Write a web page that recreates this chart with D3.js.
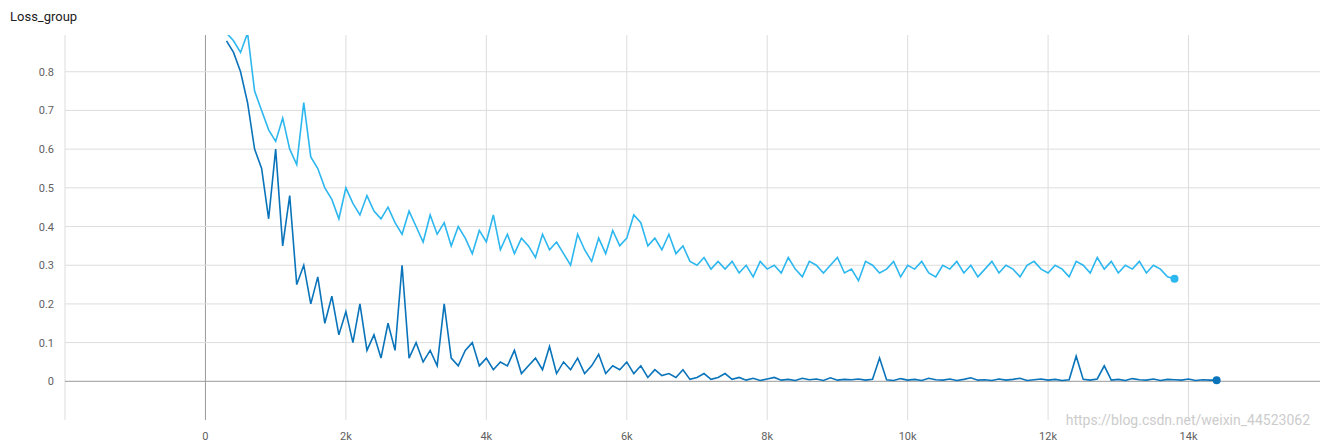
<!DOCTYPE html>
<html><head><meta charset="utf-8">
<script src="https://cdn.jsdelivr.net/npm/d3@7"></script>
<style>body{margin:0;background:#fff;font-family:Roboto,"Noto Sans",sans-serif;}</style>
</head><body><svg id="c" width="1320" height="445"></svg>
<script>
const title = "Loss_group";
const xTicks = [0,2000,4000,6000,8000,10000,12000,14000];
const xGrid = [-2000,0,2000,4000,6000,8000,10000,12000,14000,16000];
const yTicks = [0,0.1,0.2,0.3,0.4,0.5,0.6,0.7,0.8];
const lightStart = 300, lightStep = 100;
const lightValues = [0.9,0.88,0.85,0.9,0.75,0.7,0.65,0.62,0.68,0.6,0.56,0.72,0.58,0.55,0.5,0.47,0.42,0.5,0.46,0.43,0.48,0.44,0.42,0.45,0.41,0.38,0.44,0.4,0.36,0.43,0.38,0.41,0.35,0.4,0.37,0.33,0.39,0.36,0.43,0.34,0.38,0.33,0.37,0.35,0.32,0.38,0.34,0.36,0.33,0.3,0.38,0.34,0.31,0.37,0.33,0.39,0.35,0.37,0.43,0.41,0.35,0.37,0.34,0.38,0.33,0.35,0.31,0.3,0.32,0.29,0.31,
0.29,0.31,0.28,0.3,0.27,0.31,0.29,0.3,0.28,0.32,0.29,0.27,0.31,0.3,0.28,0.3,0.32,0.28,0.29,0.26,0.31,0.3,0.28,0.29,0.31,0.27,0.3,0.29,0.31,0.28,0.27,0.3,0.29,0.31,0.28,0.3,0.27,0.29,0.31,0.28,0.3,0.29,0.27,0.3,0.31,0.29,0.28,0.3,0.29,0.27,0.31,0.3,0.28,0.32,0.29,0.31,0.28,0.3,0.29,0.31,0.28,0.3,0.29,0.27,0.265];
const darkStart = 300, darkStep = 100;
const darkValues = [0.88,0.85,0.8,0.72,0.6,0.55,0.42,0.6,0.35,0.48,0.25,0.3,0.2,0.27,0.15,0.22,0.12,0.18,0.1,0.2,0.08,0.12,0.06,0.15,0.08,0.3,0.06,0.1,0.05,0.08,0.04,0.2,0.06,0.04,0.08,0.1,0.04,0.06,0.03,0.05,0.04,0.08,0.02,0.04,0.06,0.03,0.09,0.02,0.05,0.03,0.06,0.02,0.04,0.07,0.02,0.04,0.03,0.05,0.02,0.04,0.01,0.03,0.015,0.02,0.01,0.03,0.005,0.01,0.02,0.005,0.01,0.02,
0.005,0.01,0.003,0.008,0.002,0.006,0.01,0.003,0.005,0.002,0.008,0.004,0.006,0.002,0.009,0.003,0.005,0.004,0.006,0.003,0.005,0.06,0.004,0.002,0.007,0.003,0.005,0.002,0.008,0.004,0.003,0.006,0.002,0.005,0.009,0.003,0.004,0.002,0.006,0.003,0.005,0.008,0.002,0.004,0.006,0.003,0.005,0.002,0.004,0.065,0.005,0.003,0.006,0.04,0.003,0.005,0.002,0.007,0.004,0.003,0.006,0.002,0.005,0.004,0.003,0.006,0.002,0.004,0.003,0.003];

const svg = d3.select("#c");
const x = d3.scaleLinear().domain([-2000,16100]).range([65,1336]);
const y = d3.scaleLinear().domain([-0.1,0.895]).range([420,35]);
svg.append("text").attr("x",10).attr("y",21).attr("font-size",13).attr("fill","#212121").text(title);
const g = svg.append("g");
g.selectAll(".gx").data(xGrid).join("line").attr("x1",d=>x(d)).attr("x2",d=>x(d)).attr("y1",35).attr("y2",420)
 .attr("stroke",d=>d===0?"#999":"#ddd");
g.selectAll(".gy").data(yTicks).join("line").attr("x1",65).attr("x2",1320).attr("y1",d=>y(d)).attr("y2",d=>y(d))
 .attr("stroke",d=>d===0?"#999":"#ddd");
svg.selectAll(".ty").data(yTicks).join("text").attr("x",54).attr("y",d=>y(d)+4).attr("text-anchor","end")
 .attr("font-size",11).attr("fill","#616161").text(d=>d===0?"0":d3.format(".1f")(d));
svg.selectAll(".tx").data(xTicks).join("text").attr("x",d=>x(d)).attr("y",440).attr("text-anchor","middle")
 .attr("font-size",11).attr("fill","#616161").text(d=>d===0?"0":(d/1000)+"k");
svg.append("clipPath").attr("id","cp").append("rect").attr("x",65).attr("y",35).attr("width",1255).attr("height",385);
const line = d3.line().x(d=>x(d[0])).y(d=>y(d[1]));
const L = lightValues.map((v,i)=>[lightStart+i*lightStep,v]);
const D = darkValues.map((v,i)=>[darkStart+i*darkStep,v]);
const pg = svg.append("g").attr("clip-path","url(#cp)");
pg.append("path").datum(L).attr("d",line).attr("fill","none").attr("stroke","#2db7ef").attr("stroke-width",1.6);
pg.append("path").datum(D).attr("d",line).attr("fill","none").attr("stroke","#0a74bb").attr("stroke-width",1.6);
svg.append("circle").attr("cx",x(L[L.length-1][0])).attr("cy",y(L[L.length-1][1])).attr("r",4).attr("fill","#2db7ef");
svg.append("circle").attr("cx",x(D[D.length-1][0])).attr("cy",y(D[D.length-1][1])).attr("r",4).attr("fill","#0a74bb");
svg.append("text").attr("x",1310).attr("y",425).attr("text-anchor","end").attr("font-size",14).attr("fill","#ccc")
 .text("https://blog.csdn.net/weixin_44523062");
</script></body></html>
